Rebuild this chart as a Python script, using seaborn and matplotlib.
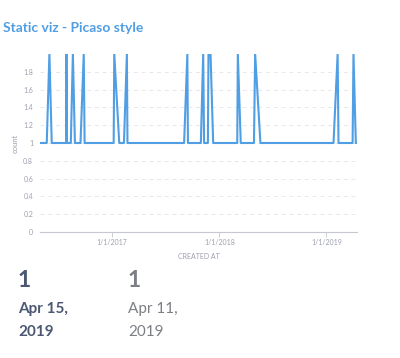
import pandas as pd
import matplotlib
matplotlib.use("Agg")
import matplotlib.pyplot as plt
import seaborn as sns

# --- data ---
created_at = [
    "2016-04-30", "2016-05-23", "2016-06-01", "2016-06-09",
    "2016-07-28", "2016-07-29", "2016-07-31",
    "2016-08-13", "2016-08-20", "2016-08-27",
    "2016-09-15", "2016-09-26", "2016-09-29",
    "2017-01-06", "2017-01-08", "2017-01-25",
    "2017-02-10", "2017-02-20", "2017-02-22",
    "2017-09-03", "2017-09-14", "2017-09-16",
    "2017-10-30", "2017-11-07", "2017-11-10",
    "2017-11-23", "2017-11-25", "2017-12-02", "2017-12-11",
    "2018-03-03", "2018-03-05", "2018-03-15",
    "2018-04-29", "2018-05-03", "2018-05-21",
    "2019-01-25", "2019-02-08", "2019-02-11",
    "2019-03-31", "2019-04-03", "2019-04-11", "2019-04-15",
]
counts = [
    1, 1, 2, 1,
    1, 2, 1,
    1, 2, 1,
    1, 2, 1,
    1, 2, 1,
    1, 2, 1,
    1, 2, 1,
    1, 2, 1,
    1, 2, 2, 1,
    1, 2, 1,
    1, 2, 1,
    1, 2, 1,
    1, 2, 1, 1,
]
y_ticks = [0, 0.2, 0.4, 0.6, 0.8, 1, 1.2, 1.4, 1.6, 1.8]
y_tick_labels = ["0", "0.2", "0.4", "0.6", "0.8", "1", "1.2", "1.4", "1.6", "1.8"]
x_ticks = ["2017-01-01", "2018-01-01", "2019-01-01"]
x_tick_labels = ["1/1/2017", "1/1/2018", "1/1/2019"]

last_value, last_date = "1", ["Apr 15,", "2019"]
prev_value, prev_date = "1", ["Apr 11,", "2019"]

df = pd.DataFrame({"created_at": pd.to_datetime(created_at), "count": counts})

# --- style ---
sns.set_theme(style="white")
plt.rcParams["font.family"] = ["Lato", "DejaVu Sans"]

BLUE = "#509EE3"
GREY = "#9CA0AD"
DARK = "#4C5773"
MID = "#7C7F84"

W, H = 400, 358
fig = plt.figure(figsize=(W / 100, H / 100), dpi=100)
ax = fig.add_axes([40 / W, (H - 232) / H, 317 / W, 178 / H])

sns.lineplot(data=df, x="created_at", y="count", ax=ax, color=BLUE, linewidth=1.5)

ax.set_ylim(0, 2)
ax.set_xlim(df["created_at"].min(), df["created_at"].max())
ax.set_yticks(y_ticks)
ax.set_yticklabels(y_tick_labels)
ax.set_xticks(pd.to_datetime(x_ticks))
ax.set_xticklabels(x_tick_labels)

ax.tick_params(axis="y", length=0, pad=5, labelsize=5, labelcolor=GREY)
ax.tick_params(axis="x", length=3.5, width=0.6, color="#C5C8D0", pad=1.5,
               labelsize=5, labelcolor=GREY, bottom=True)

ax.grid(axis="y", color="#E6E8EC", linestyle=(0, (4, 4)), linewidth=0.7)
ax.grid(axis="x", visible=False)
ax.get_ygridlines()[0].set_visible(False)
ax.set_axisbelow(True)

for side in ["top", "right", "left"]:
    ax.spines[side].set_visible(False)
ax.spines["bottom"].set_color("#C5C8D0")
ax.spines["bottom"].set_linewidth(0.8)

ax.set_xlabel("CREATED AT", fontsize=5, color=GREY, labelpad=5)
ax.set_ylabel("count", fontsize=5.5, color=GREY, labelpad=3)

# title and summary numbers
fig.text(3 / W, 1 - 31.5 / H, "Static viz - Picaso style", fontsize=10,
         fontweight="bold", color=BLUE, va="baseline")

for x, value, date_lines, color, weight in [
    (18, last_value, last_date, DARK, "bold"),
    (128, prev_value, prev_date, MID, "normal"),
]:
    fig.text(x / W, 1 - 287 / H, value, fontsize=16.5, fontweight="bold",
             color=color, va="baseline")
    for line, base in zip(date_lines, [313.5, 336]):
        fig.text(x / W, 1 - base / H, line, fontsize=11, fontweight=weight,
                 color=color, va="baseline")

plt.savefig("out.png", dpi=100)
plt.close()
